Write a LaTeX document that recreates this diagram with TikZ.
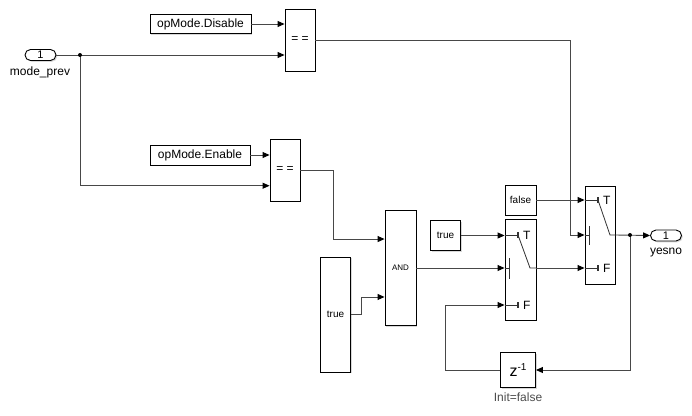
\documentclass[tikz,border=0pt]{standalone}
\usepackage{fontspec}
\setmainfont{Liberation Sans}
\usetikzlibrary{arrows.meta,shapes.misc,calc,shadows}
\newcommand\fsz[1]{\fontsize{#1}{#1}\selectfont}
\begin{document}
\begin{tikzpicture}[x=1pt,y=-1pt,
  blk/.style={draw=black,fill=white,line width=0.9pt,inner sep=0pt,
    drop shadow={shadow xshift=1.3pt,shadow yshift=-1.3pt,fill=black!30}},
  wh/.style 2 args={minimum width=#1pt,minimum height=#2pt},
  wire/.style={draw=black!72,line width=0.9pt},
  arr/.style={wire,-{Triangle[length=7pt,width=6pt,color=black]}},
  icon/.style={draw=black!80,line width=0.8pt},
  tick/.style={draw=black!80,line width=1.4pt},
  lbl/.style={inner sep=0pt,font=\fsz{12}},
  swl/.style={inner sep=0pt,anchor=west,font=\fsz{12}}]
\useasboundingbox (0,0) rectangle (692,415);

% blocks
\node[blk,wh={31}{11},rounded rectangle] (in1) at (40.5,55) {\fsz{11}1};
\node[lbl] (lab1) at (40,72) {mode\_prev};
\node[blk,wh={101}{19}] (dis) at (200.5,24) {\fsz{12}opMode.Disable};
\node[blk,wh={30}{62}] (eq1) at (300,40) {\fsz{12}= =};
\node[blk,wh={100}{20}] (en) at (200,155) {\fsz{12}opMode.Enable};
\node[blk,wh={30}{62}] (eq2) at (285,170) {\fsz{12}= =};
\node[blk,wh={31}{115}] (and) at (400.5,268) {\fsz{8}AND};
\node[blk,wh={30}{115}] (ctrue) at (335.5,314.5) {\fsz{10}true};
\node[blk,wh={30}{30}] (true1) at (445.5,235.5) {\fsz{10}true};
\node[blk,wh={31}{101}] (sw1) at (520.5,269.5) {};
\node[blk,wh={31}{30}] (false1) at (520.5,200) {\fsz{10}false};
\node[blk,wh={30}{98}] (sw2) at (600,235) {};
\node[blk,wh={31}{11},rounded rectangle] (out1) at (666,235.5) {\fsz{11}1};
\node[lbl] (lab2) at (666,253) {yesno};
\node[blk,wh={35}{35}] (dly) at (518,370) {\fsz{16}z\raisebox{6pt}{\fsz{10}-1}};
\node[lbl,text=black!70] (lab3) at (518,397) {Init=false};

% switch icons
\draw[icon] (505,235) -- (518,235);
\draw[tick] (518,232) -- (518,238);
\draw[icon] (505,268) -- (509,268);
\draw[icon] (509,258) -- (509,279);
\draw[icon] (505,305) -- (518,305);
\draw[tick] (518,302) -- (518,308);
\draw[icon] (518,235) -- (530,268) -- (536,268);
\node[swl] (t1) at (523,235) {T};
\node[swl] (f1) at (523,305) {F};

\draw[icon] (585,200) -- (598,200);
\draw[tick] (598,197) -- (598,203);
\draw[icon] (585,235) -- (589,235);
\draw[icon] (589,226) -- (589,245);
\draw[icon] (585,268) -- (598,268);
\draw[tick] (598,265) -- (598,271);
\draw[icon] (598,200) -- (610,235) -- (615,235);
\node[swl] (t2) at (603,200) {T};
\node[swl] (f2) at (603,268) {F};

% junctions and ports
\coordinate (j1) at (80,55);
\coordinate (j2) at (630,235);
\coordinate (eq2b) at ($(eq2.north west)!0.75!(eq2.south west)$);
\coordinate (anda) at ($(and.north west)!0.25!(and.south west)$);
\coordinate (andb) at ($(and.north west)!0.75!(and.south west)$);
\coordinate (sw1f) at (sw1.west |- 0,305);

% connectors
\draw[arr] (in1.east) -- (in1.east -| eq1.west);
\draw[arr] (dis.east) -- (dis.east -| eq1.west);
\draw[arr] (j1) |- (eq2b);
\draw[arr] (en.east) -- (en.east -| eq2.west);
\draw[arr] (eq1.east) -- ++(255,0) |- (sw2.west);
\draw[arr] (eq2.east) -- ++(33,0) |- (anda);
\draw[arr] (ctrue.east) -- ++(10,0) |- (andb);
\draw[arr] (and.east) -- (and.east -| sw1.west);
\draw[arr] (true1.east) -- (true1.east -| sw1.west);
\draw[arr] (false1.east) -- (false1.east -| sw2.west);
\draw[arr] (sw1.east |- and.east) -- (sw2.west |- and.east);
\draw[arr] (sw2.east) -- (out1.west);
\draw[arr] (j2) |- (dly.east);
\draw[arr] (dly.west) -- ++(-55,0) |- (sw1f);
\fill[black] (j1) circle (2pt);
\fill[black] (j2) circle (2pt);
\end{tikzpicture}
\end{document}
